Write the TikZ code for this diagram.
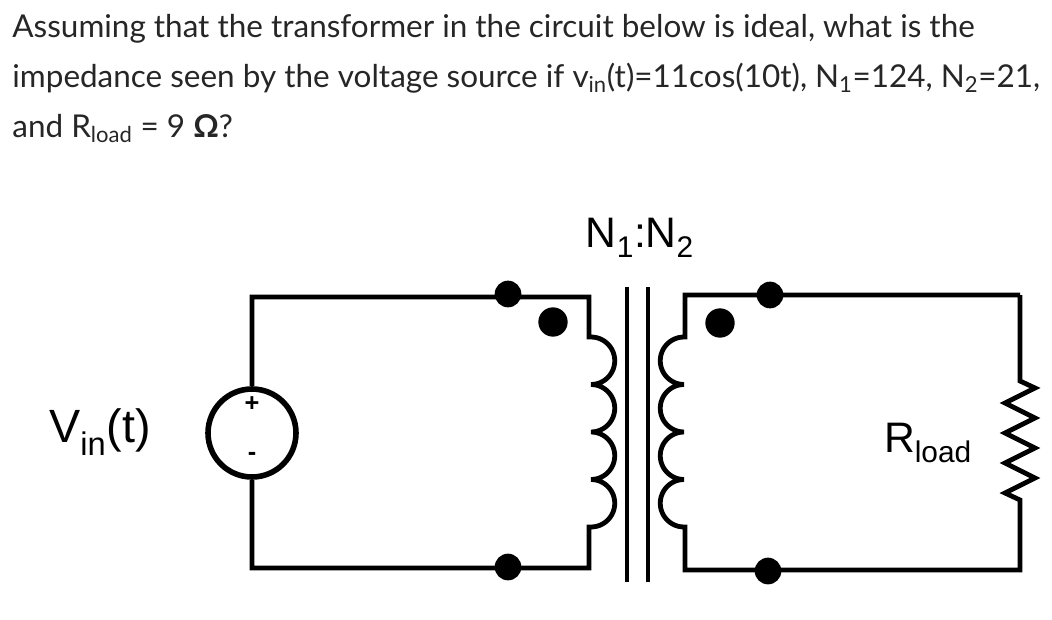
\documentclass[tikz,border=0pt]{standalone}
\usepackage{fontspec}
\setmainfont{Lato}
\newfontfamily\arialf{Liberation Sans}
\newcommand{\sbs}[1]{\textsubscript{#1}}
\begin{document}
\begin{tikzpicture}[x=0.75pt,y=-0.75pt,line width=3.6pt,
  wire/.style={line join=miter},
  tdot/.style={circle,fill=black,inner sep=0pt,minimum size=20pt},
  pdot/.style={circle,fill=black,inner sep=0pt,minimum size=22pt},
  lbl/.style={inner sep=0pt,font=\arialf\fontsize{32}{34}\selectfont},
  qtext/.style={anchor=base west,inner sep=0pt,font=\fontsize{23.6}{26}\selectfont,text=black!85}]
\useasboundingbox (0,0) rectangle (1052,620);
\node[qtext] (q1) at (10,38) {Assuming that the transformer in the circuit below is ideal, what is the};
\node[qtext] (q2) at (10,88) {impedance seen by the voltage source if v\sbs{in}(t)=11cos(10t), N\sbs{1}=124, N\sbs{2}=21,};
\node[qtext] (q3) at (10,138) {and R\sbs{load} = 9 \textbf{Ω}?};
% source
\node[circle,draw,line width=4.2pt,minimum size=66pt,inner sep=0pt] (src) at (252,433) {};
\node[font=\arialf\bfseries\fontsize{19}{22}\selectfont,inner sep=0pt] (plus) at (252,404) {+};
\node[font=\arialf\bfseries\fontsize{19}{22}\selectfont,inner sep=0pt] (minus) at (252,456) {-};
\node[lbl,font=\arialf\fontsize{35}{38}\selectfont] (vin) at (100,432) {V\sbs{in}(t)};
\coordinate (tl) at (252,297); \coordinate (bl) at (252,568);
\coordinate (pt) at (589,297); \coordinate (pb) at (589,568);
\draw[wire] (src.north) -- (tl) -- (pt) -- (589,337) -- (591,337)
  -- plot[domain=-90:90,samples=25] ({591+23.75*cos(\x)},{360.75+23.75*sin(\x)})
  -- plot[domain=-90:90,samples=25] ({591+23.75*cos(\x)},{408.25+23.75*sin(\x)})
  -- plot[domain=-90:90,samples=25] ({591+23.75*cos(\x)},{455.75+23.75*sin(\x)})
  -- plot[domain=-90:90,samples=25] ({591+23.75*cos(\x)},{503.25+23.75*sin(\x)})
  -- (589,527) -- (pb) -- (bl) -- (src.south);
\node[tdot] (d1) at (508,294) {}; \node[tdot] (d2) at (508,567) {};
\node[pdot] (p1) at (553,322) {};
% core
\draw (627,287) -- (627,582); \draw (648,287) -- (648,582);
% secondary
\coordinate (st) at (685,295); \coordinate (sb) at (685,570);
\coordinate (rt) at (1020,295); \coordinate (rb) at (1020,570);
\draw[wire] (rt) -- (st) -- (685,337) -- (684,337)
  -- plot[domain=-90:90,samples=25] ({684-23.75*cos(\x)},{360.75+23.75*sin(\x)})
  -- plot[domain=-90:90,samples=25] ({684-23.75*cos(\x)},{408.25+23.75*sin(\x)})
  -- plot[domain=-90:90,samples=25] ({684-23.75*cos(\x)},{455.75+23.75*sin(\x)})
  -- plot[domain=-90:90,samples=25] ({684-23.75*cos(\x)},{503.25+23.75*sin(\x)})
  -- (685,527) -- (sb) -- (rb)
  -- (1020,500) -- (1005,493) -- (1035,478) -- (1005,463) -- (1035,448) -- (1005,433) -- (1035,418) -- (1005,403) -- (1035,388) -- (1020,381) -- (rt);
\node[tdot] (d3) at (770,295) {}; \node[tdot] (d4) at (768,571) {};
\node[pdot] (p2) at (720,323) {};
\node[lbl] (rl) at (928,443) {R\sbs{load}};
\node[lbl] (nn) at (640,238) {N\sbs{1}:N\sbs{2}};
\end{tikzpicture}
\end{document}
